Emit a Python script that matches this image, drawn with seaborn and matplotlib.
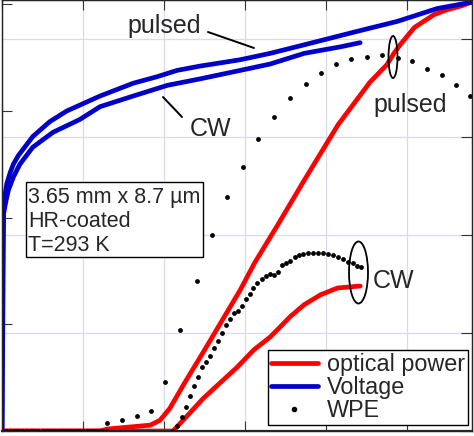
import pandas as pd
import matplotlib
matplotlib.use('Agg')
import matplotlib.pyplot as plt
import seaborn as sns
from matplotlib.patches import Ellipse, Rectangle
from matplotlib.lines import Line2D

# voltage (V) vs current (A)
I_pulsed_v = [0, 0.01, 0.03, 0.06, 0.10, 0.14, 0.20, 0.26, 0.38, 0.59, 0.80, 1.21, 1.62,
              1.91, 2.16, 2.44, 2.94, 3.31, 3.73, 4.35, 4.88, 5.37, 5.80]
V_pulsed = [0, 1.02, 1.09, 1.16, 1.21, 1.25, 1.29, 1.32, 1.38, 1.45, 1.50, 1.57, 1.63,
            1.66, 1.69, 1.71, 1.74, 1.77, 1.81, 1.87, 1.92, 1.98, 2.01]
I_cw_v = [0, 0.02, 0.05, 0.08, 0.14, 0.22, 0.30, 0.38, 0.63, 0.96, 1.21, 1.62, 2.04, 2.44,
          2.94, 3.31, 3.73, 4.17, 4.42]
V_cw = [0, 1.02, 1.08, 1.13, 1.19, 1.25, 1.29, 1.33, 1.40, 1.46, 1.52, 1.57, 1.62, 1.65,
        1.69, 1.72, 1.77, 1.80, 1.82]

# optical power (W) vs current (A)
I_pulsed_p = [0, 1.21, 1.30, 1.83, 1.95, 2.07, 2.26, 2.48, 2.94, 3.12, 3.40, 3.73, 4.15,
              4.35, 4.54, 4.75, 4.84, 4.93, 5.09, 5.33, 5.49, 5.67, 5.80]
P_pulsed = [0, 0, 0.02, 0.06, 0.11, 0.23, 0.50, 0.80, 1.44, 1.72, 2.10, 2.56, 3.13,
            3.35, 3.56, 3.74, 3.86, 3.96, 4.12, 4.25, 4.30, 4.34, 4.38]
I_cw_p = [0, 2.11, 2.28, 2.48, 2.69, 2.90, 3.11, 3.31, 3.43, 3.56, 3.73, 3.93, 4.14, 4.42]
P_cw = [0, 0, 0.15, 0.33, 0.49, 0.65, 0.83, 0.96, 1.06, 1.17, 1.29, 1.39, 1.46, 1.48]

# wall plug efficiency (%) vs current (A)
I_pulsed_w = [0.19, 0.37, 0.56, 0.75, 0.94, 1.11, 1.30, 1.48, 1.67, 1.84, 2.01, 2.20, 2.41,
              2.59, 2.78, 2.98, 3.16, 3.36, 3.56, 3.75, 3.94, 4.12, 4.31, 4.51, 4.69, 4.89,
              5.06, 5.24, 5.43, 5.60, 5.78]
W_pulsed = [0, 0, 0, 0, 0, 0, 0.8, 1.1, 1.5, 2.0, 5.0, 10.3, 15.3,
            20.0, 23.9, 27.0, 29.8, 32.1, 34.0, 35.4, 36.5, 37.5, 38.0, 38.2, 38.4, 38.1,
            37.8, 37.0, 36.3, 35.3, 34.2]
I_cw_w = [0.00, 0.05, 0.10, 0.15, 0.20, 0.25, 0.30, 0.35, 0.40, 0.45, 0.50, 0.55, 0.60,
          0.65, 0.70, 0.75, 0.80, 0.85, 0.90, 0.95, 1.00, 1.05, 1.10, 1.15, 1.20, 1.25, 1.30,
          2.11, 2.16, 2.22, 2.27, 2.32, 2.37, 2.42, 2.47, 2.52, 2.57, 2.62, 2.67, 2.71, 2.77,
          2.81, 2.86, 2.91, 2.96, 3.01, 3.06, 3.10, 3.15, 3.21, 3.26, 3.31, 3.36, 3.41, 3.46,
          3.51, 3.56, 3.62, 3.67, 3.72, 3.78, 3.84, 3.90, 3.96, 4.02, 4.09, 4.15, 4.21, 4.27,
          4.33, 4.38, 4.43]
W_cw = [0, 0, 0, 0, 0, 0, 0, 0, 0, 0, 0, 0, 0,
        0, 0, 0, 0, 0, 0, 0, 0, 0, 0, 0, 0, 0, 0,
        0, 0.5, 1.4, 2.5, 3.6, 4.6, 5.5, 6.5, 7.0, 7.7, 8.5, 9.2, 10.0, 10.8,
        11.4, 12.0, 12.3, 12.8, 13.5, 14.0, 14.6, 15.1, 15.5, 15.8, 16.0, 15.9, 16.2, 16.9,
        17.2, 17.4, 17.8, 18.0, 18.1, 18.2, 18.2, 18.2, 18.2, 18.1, 18.0, 17.8, 17.6, 17.3,
        17.1, 16.8, 16.7]

legend_labels = ['optical power', 'Voltage', 'WPE']
info_lines = ['3.65 mm x 8.7 µm', 'HR-coated', 'T=293 K']

sns.set_style('white')
plt.rcParams['font.family'] = ['Liberation Sans', 'DejaVu Sans']

red = '#ff0000'
blue = '#0000c8'
tick_col = '#333333'

fig = plt.figure(figsize=(4.74, 4.36), dpi=100)
ax = fig.add_axes([2 / 474, 5 / 436, 470 / 474, 431 / 436])   # power + grid
axw = ax.twinx()                                               # WPE (hidden scale)
axv = ax.twinx()                                               # voltage, left scale


def px(x, y):
    # reference pixel position -> axes fraction
    return ((x - 2) / 470, (431 - y) / 431)


# optical power
for I, P in [(I_pulsed_p, P_pulsed), (I_cw_p, P_cw)]:
    sns.lineplot(x=I, y=P, ax=ax, color=red, lw=3.4, sort=False, estimator=None)

# WPE dots
for I, W in [(I_pulsed_w, W_pulsed), (I_cw_w, W_cw)]:
    sns.scatterplot(x=I, y=W, ax=axw, color='k', s=12, linewidth=0, legend=False)

# voltage
for I, V in [(I_pulsed_v, V_pulsed), (I_cw_v, V_cw)]:
    sns.lineplot(x=I, y=V, ax=axv, color=blue, lw=3.4, sort=False, estimator=None)

ax.set_xlim(0, 5.8)
ax.set_ylim(0, 4.4)
axv.set_ylim(0, 2.02)
axw.set_ylim(0, 44)

ax.set_xticks([0, 1, 2, 3, 4, 5])
ax.set_yticks([0, 1, 2, 3, 4])
axv.set_yticks([0, 0.5, 1, 1.5, 2])
axw.set_yticks([])

ax.grid(True, color='#d9d9ef', lw=0.9)
ax.set_axisbelow(True)

ax.yaxis.tick_right()
ax.tick_params(axis='x', direction='in', top=True, bottom=True, length=7, color=tick_col,
               labelbottom=False, labeltop=False)
ax.tick_params(axis='y', direction='in', right=True, left=False, length=8, color=tick_col,
               labelleft=False, labelright=False)
axv.yaxis.tick_left()
axv.tick_params(axis='y', direction='in', left=True, right=False, length=7, color=tick_col,
                labelleft=False, labelright=False)

for a in (ax, axw, axv):
    a.set_xlabel('')
    a.set_ylabel('')
for s in axw.spines.values():
    s.set_visible(False)
for a in (ax, axv):
    for s in a.spines.values():
        s.set_color('#262626')
        s.set_linewidth(0.9)
ax.spines['bottom'].set_linewidth(1.6)

fs = 18
tr = axv.transAxes

# labels and leader lines
axv.text(*px(164, 33), 'pulsed', transform=tr, ha='center', va='baseline', fontsize=fs)
axv.plot(*zip(px(208, 32), px(254, 48)), transform=tr, color='k', lw=1.4)
axv.text(*px(210.5, 136), 'CW', transform=tr, ha='center', va='baseline', fontsize=fs)
axv.plot(*zip(px(163, 97), px(182, 117)), transform=tr, color='k', lw=1.4)

axv.add_patch(Ellipse(px(393, 57), 9 / 470, 42 / 431, transform=tr, fill=False,
                      ec='k', lw=1.3))
axv.text(*px(410.5, 112), 'pulsed', transform=tr, ha='center', va='baseline', fontsize=fs)
axv.add_patch(Ellipse(px(358.5, 272.5), 19 / 470, 62 / 431, transform=tr, fill=False,
                      ec='k', lw=1.3))
axv.text(*px(394, 288), 'CW', transform=tr, ha='center', va='baseline', fontsize=fs)

# info box
axv.add_patch(Rectangle(px(26, 257), 177 / 470, 75 / 431, transform=tr, fc='white',
                        ec='k', lw=1.0, zorder=5))
for line, base in zip(info_lines, [203, 227, 251]):
    axv.text(*px(28, base), line, transform=tr, ha='left', va='baseline', fontsize=15.5,
             zorder=6)

handles = [Line2D([], [], color=red, lw=3.4),
           Line2D([], [], color=blue, lw=3.4),
           Line2D([], [], color='k', marker='.', ls='none', ms=6)]
leg = axv.legend(handles, legend_labels, loc='lower right', bbox_to_anchor=px(468, 425),
                 bbox_transform=tr, borderaxespad=0, fontsize=16.8, frameon=True,
                 fancybox=False, edgecolor='k', framealpha=1, borderpad=0.12,
                 labelspacing=0, handlelength=2.0, handletextpad=0.4)
leg.get_frame().set_linewidth(1.0)

fig.savefig('out.png', dpi=100)
